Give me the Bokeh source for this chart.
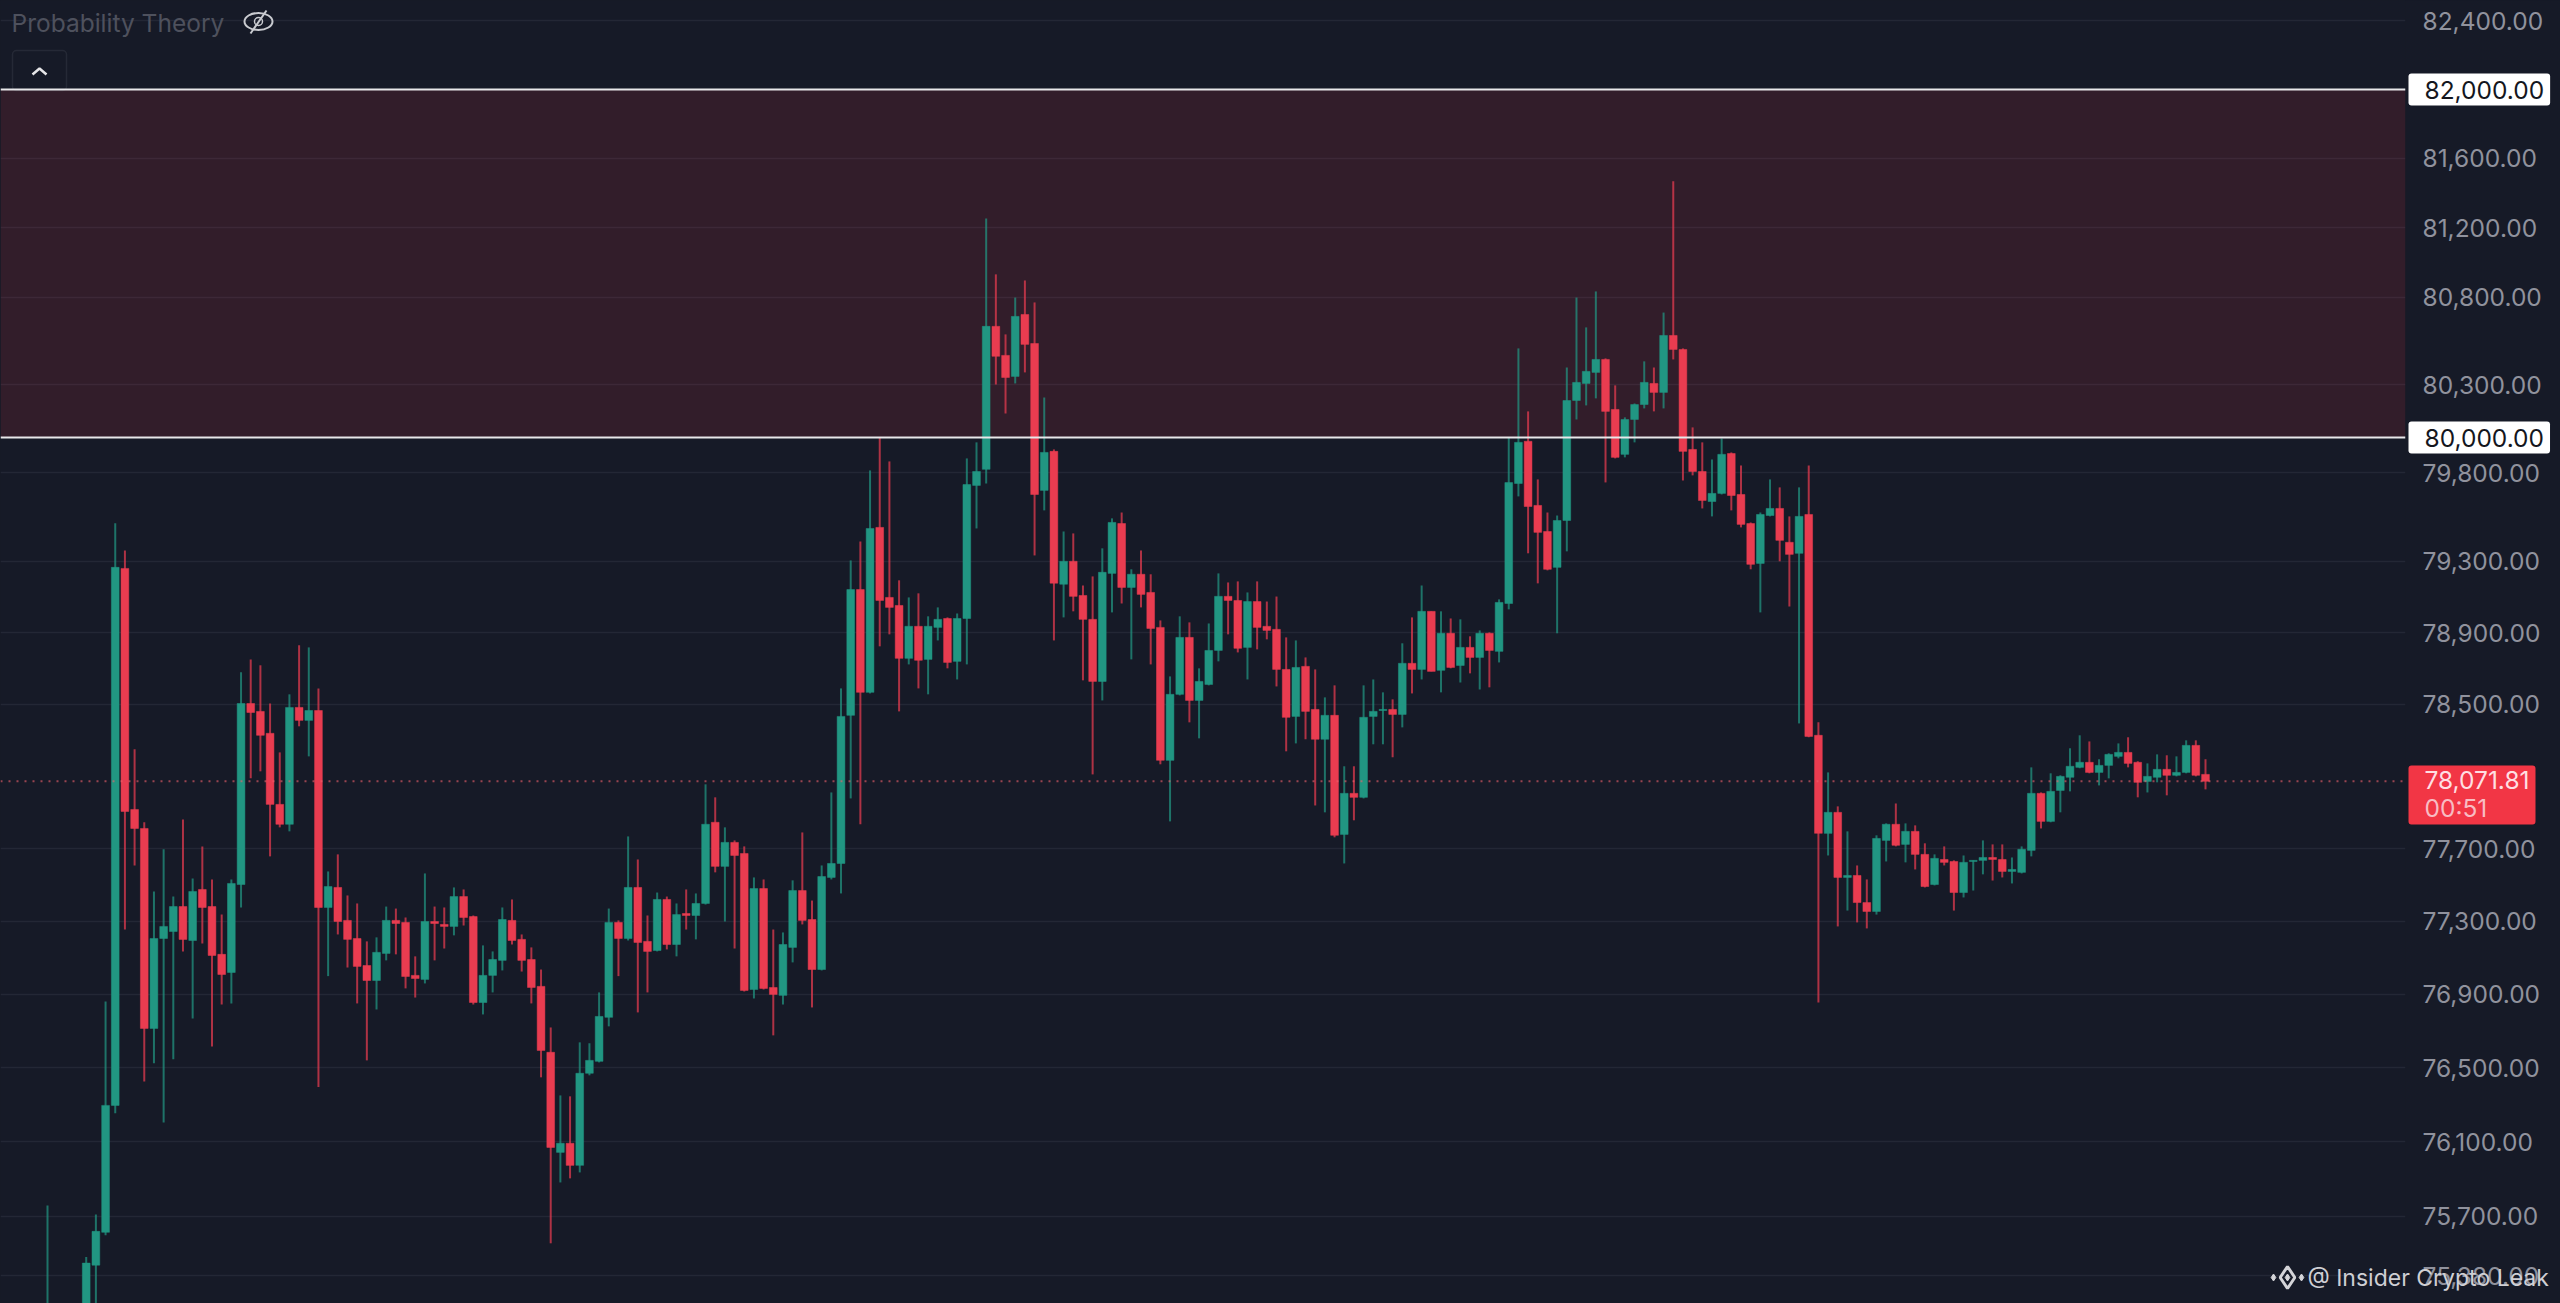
from bokeh.plotting import figure
from bokeh.models import (BoxAnnotation, ColumnDataSource, FixedTicker, Label, LinearScale,
                          NumeralTickFormatter, Range1d, Span)
from bokeh.embed import file_html
from bokeh.resources import INLINE

opens = [
75100,75180,75120,75190,75200,75437,75613,76297,79260,77916,
77811,76715,77206,77244,77381,77195,77475,77381,77119,77020,
77502,78504,78460,78338,77944,77834,78482,78410,78465,77376,
77486,77305,77206,77058,76976,77124,77305,77294,77004,76982,
77299,77283,77272,77436,77326,76856,77004,77086,77305,77201,
77091,76944,76585,76043,76092,75973,76471,76536,76775,77294,
77206,77486,77190,77140,77420,77173,77343,77332,77398,77845,
77602,77734,77673,76927,77480,76938,76895,77157,77469,77310,
77036,77541,77618,78438,79141,78566,79491,79097,79052,78756,
78935,78750,78929,78979,78739,78979,79728,79819,80633,80467,
80347,80701,80535,79700,79921,79171,79300,79108,78974,78627,
79232,79513,79153,79227,79125,78929,78188,78555,78873,78521,
78610,78800,79103,79080,78817,79074,78935,78918,78694,78432,
78711,78471,78305,78438,77778,78005,77983,78432,78465,78471,
78443,78728,78694,79019,78689,78896,78716,78817,78761,78896,
78795,79063,79739,79978,79615,79468,79266,79530,80210,80307,
80370,80444,80159,79904,80102,80187,80307,80256,80581,80501,
79932,79807,79637,79683,79909,79677,79513,79288,79558,79598,
79407,79345,79564,78327,77784,77900,77541,77552,77403,77354,
77745,77834,77723,77795,77668,77502,77640,77629,77458,77629,
77635,77651,77640,77574,77569,77690,78005,77850,78021,78094,
78149,78177,78121,78160,78210,78232,78177,78071,78094,78138,
78105,78121,78271,78110]

highs = [
75757,75220,75210,75225,75480,75709,76862,79514,79361,78249,
77845,77464,77696,77436,77861,77535,77712,77530,77337,77530,
78678,78750,78717,78504,78232,78555,78829,78817,78588,77574,
77668,77442,77398,77190,77212,77381,77370,77321,77108,77563,
77381,77376,77486,77475,77332,77168,77135,77376,77420,77228,
77157,77036,76720,76351,76346,76639,76634,76911,77370,77305,
77767,77640,77332,77458,77436,77398,77475,77453,78055,77983,
77817,77745,77712,77541,77530,77255,77239,77525,77789,77414,
77607,78010,78588,79305,79412,79813,80000,79864,79193,79097,
79120,78991,79041,78985,79007,79881,79972,81253,80931,80587,
80798,80896,80770,80227,79932,79468,79457,79164,79215,79373,
79542,79575,79255,79361,79227,78968,78655,78991,78957,78700,
78951,79232,79181,79187,79125,79187,79074,79102,78873,78856,
78761,78694,78538,78605,78155,78155,78605,78638,78566,78527,
78840,78985,79164,79019,79019,78979,78974,78879,78912,78901,
79086,80000,80507,80148,79762,79575,79558,80398,80798,80627,
80833,80450,80296,80114,80193,80433,80398,80712,81467,80507,
80057,79972,79875,79994,79915,79841,79519,79575,79762,79717,
79553,79717,79841,78399,78121,77933,77795,77607,77530,77773,
77839,77949,77839,77828,77729,77668,77712,77635,77662,77635,
77745,77723,77723,77651,77712,78149,78010,78116,78105,78255,
78327,78293,78194,78227,78282,78316,78183,78171,78221,78216,
78210,78299,78299,78194]

lows = [
75050,75100,75060,75150,75190,75150,75597,76254,77255,77607,
76427,76525,76205,76547,77135,76769,77179,76617,76845,76851,
77376,78088,78127,77657,77817,77795,78377,78210,76396,77000,
77228,77047,76851,76541,76818,77086,77119,76933,76883,76960,
77086,77151,77223,77277,76845,76791,76911,77031,77173,77025,
76851,76449,75554,75881,75903,75935,76460,76530,76726,77000,
77195,76802,76911,77135,77146,77108,77255,77201,77392,77569,
77299,77151,76916,76878,76927,76677,76845,77075,77283,76829,
77031,77530,77453,77977,77834,78560,78823,78890,78460,78722,
78588,78555,78856,78700,78638,78722,79485,79739,80301,80136,
80307,80370,79333,79587,78856,78985,79019,78633,78110,78521,
79013,79063,78750,79041,78722,78166,77850,78549,78399,78310,
78605,78739,78890,78789,78638,78806,78862,78599,78238,78282,
78305,77938,77900,77762,77618,77856,77977,78277,78277,78205,
78371,78560,78638,78683,78566,78700,78621,78672,78582,78594,
78733,79030,79666,79345,79176,79249,78896,79356,80102,80182,
80222,79745,79881,79887,79972,80165,80148,80165,80444,79756,
79785,79598,79553,79677,79587,79491,79255,79013,79553,79300,
79046,78393,78316,76856,77662,77272,77359,77294,77261,77337,
77629,77712,77624,77585,77486,77497,77607,77359,77431,77469,
77558,77524,77541,77508,77563,77657,77811,77845,77900,78016,
78144,78116,78049,78088,78199,78149,77983,78010,78066,77994,
78099,78116,78099,78027]

closes = [
75180,75120,75190,75210,75448,75618,76297,79266,77905,77811,
76715,77206,77272,77381,77201,77464,77376,77113,77009,77508,
78504,78454,78327,77944,77834,78482,78410,78465,77376,77491,
77299,77201,77053,76976,77130,77305,77288,76998,76987,77299,
77288,77272,77436,77321,76856,77004,77091,77310,77195,77086,
76938,76595,76070,76092,75973,76471,76541,76780,77294,77206,
77486,77184,77135,77420,77173,77337,77332,77398,77834,77602,
77734,77662,76922,77480,76933,76900,77173,77469,77305,77036,
77546,77618,78432,79141,78566,79485,79080,79041,78756,78935,
78745,78935,78974,78733,78979,79733,79807,80633,80462,80341,
80690,80530,79677,79915,79177,79300,79103,78974,78627,79238,
79519,79153,79227,79114,78923,78188,78555,78873,78521,78627,
78800,79103,79080,78812,79074,78929,78912,78694,78427,78705,
78460,78305,78438,77773,78005,77983,78427,78460,78471,78443,
78728,78694,79019,78683,78896,78705,78817,78761,78896,78800,
79069,79744,79972,79609,79463,79255,79530,80210,80313,80376,
80444,80148,79887,80102,80187,80313,80256,80581,80501,79921,
79807,79643,79683,79904,79671,79508,79283,79564,79598,79418,
79339,79553,78321,77784,77900,77541,77552,77403,77354,77756,
77834,77718,77795,77668,77491,77646,77624,77458,77624,77635,
77651,77640,77574,77585,77696,78005,77850,78016,78099,78155,
78177,78121,78160,78221,78232,78171,78066,78099,78138,78105,
78121,78271,78105,78071.81]

axis_ticks = [82400, 81600, 81200, 80800, 80300, 79800, 79300, 78900, 78500,
              77700, 77300, 76900, 76500, 76100, 75700, 75380]
zone_top = 82000
zone_bottom = 80000
last_price = 78071.81
title_text = "Probability Theory"
countdown = "00:51"
watermark = "@ Insider Crypto Leak"

BG = "#161a27"
GREEN = "#219682"
RED = "#e93c50"
FONT = "Inter"

N = len(opens)
ppi = (2205 - 47) / (N - 1)  # pixels per candle
x_start = (0 - 47) / ppi
x_end = (2405 - 47) / ppi

p = figure(width=2560, height=1303, frame_width=2405, frame_height=1303,
           output_backend="svg", toolbar_location=None,
           y_axis_type="log", y_axis_location="right",
           x_range=Range1d(x_start, x_end), y_range=Range1d(75232, 82519),
           background_fill_color=BG, border_fill_color=BG,
           min_border_left=0, min_border_top=0, min_border_bottom=0, min_border_right=0)
p.outline_line_color = None
p.xaxis.visible = False
p.xgrid.visible = False

# Reference pixel space for interface decoration
p.extra_x_ranges["px"] = Range1d(0, 2405)
p.extra_y_ranges["px"] = Range1d(1303, 0)
p.extra_y_scales["px"] = LinearScale()

ax = p.yaxis[0]
ax.ticker = FixedTicker(ticks=axis_ticks)
ax.formatter = NumeralTickFormatter(format="0,0.00")
ax.major_tick_line_color = None
ax.minor_tick_line_color = None
ax.axis_line_color = None
ax.major_label_standoff = 11
ax.major_label_text_color = "#90929d"
ax.major_label_text_font = FONT
ax.major_label_text_font_size = "24.5px"
ax.major_label_text_font_style = "normal"

g = p.ygrid[0]
g.ticker = FixedTicker(ticks=axis_ticks)
g.grid_line_color = "#232735"
g.grid_line_width = 1.5
g.minor_grid_line_color = None

# Resistance zone
p.add_layout(BoxAnnotation(top=zone_top, bottom=zone_bottom, fill_color="#f23645", fill_alpha=0.13,
                           line_color=None, level="underlay"))

idx = list(range(N))
up = [c >= o for o, c in zip(opens, closes)]
src = ColumnDataSource(dict(
    x=idx,
    top=[max(o, c) for o, c in zip(opens, closes)],
    bottom=[min(o, c) for o, c in zip(opens, closes)],
    high=highs, low=lows,
    color=[GREEN if u else RED for u in up],
))
p.segment(x0="x", x1="x", y0="high", y1="low", source=src, line_color="color", line_width=2, line_alpha=0.72)
p.vbar(x="x", width=0.8, top="top", bottom="bottom", source=src, fill_color="color", line_color="color", line_width=0.5)

# Horizontal levels
for lv in (zone_top, zone_bottom):
    p.add_layout(Span(location=lv, dimension="width", line_color="#e8e8ea", line_width=2))
p.add_layout(Span(location=last_price, dimension="width", line_color="#f0606c", line_width=2,
                  line_alpha=0.6, line_dash="2 6"))

# Price tags on the scale (side-panel labels are not clipped to the frame)
for lv, ypx in ((zone_top, 89), (zone_bottom, 437)):
    p.add_layout(Label(x=2408, y=ypx, x_units="canvas", y_units="canvas", text=f"{lv:,.2f}", text_font=FONT,
                       text_font_size="24.5px", text_color="#14161d", text_align="left",
                       text_baseline="middle", background_fill_color="#ffffff",
                       border_radius=3, padding=(16, 6, 7, 7)), "right")
p.add_layout(Label(x=2408, y=765, x_units="canvas", y_units="canvas", text=f"{last_price:,.2f}",
                   text_font=FONT, text_font_size="24.5px", text_color="#ffdfe2", text_align="left",
                   text_baseline="top", background_fill_color="#f23645",
                   border_radius=3, padding=(16, 6, 5, 36)), "right")
p.add_layout(Label(x=2424, y=807, x_units="canvas", y_units="canvas", text=countdown,
                   text_font=FONT, text_font_size="24.5px", text_color="#f8bcc3", text_align="left",
                   text_baseline="middle"), "right")

# Header
p.add_layout(Label(x=11, y=22, x_range_name="px", y_range_name="px", text=title_text, text_font=FONT,
                   text_font_size="24.5px", text_color="#4e515d", text_align="left", text_baseline="middle"))
p.ellipse(x=[258], y=[21], width=28, height=17, x_range_name="px", y_range_name="px",
          fill_color=None, line_color="#c9cbd0", line_width=2)
p.circle(x=[258], y=[21], radius=4, x_range_name="px", y_range_name="px",
         fill_color=None, line_color="#c9cbd0", line_width=1.5)
p.line(x=[250, 266], y=[33, 10], x_range_name="px", y_range_name="px", line_color="#c9cbd0", line_width=2)
p.add_layout(BoxAnnotation(left=12, right=66, top=50, bottom=90, x_range_name="px", y_range_name="px",
                           fill_color=BG, fill_alpha=0, line_color="#4a4d59", line_width=1.5, border_radius=4,
                           level="underlay"))
p.line(x=[32, 39, 46], y=[74, 68, 74], x_range_name="px", y_range_name="px", line_color="#e6e6e8", line_width=2.5)

# Watermark
p.scatter(x=[2287], y=[1277], marker="diamond", size=22, x_range_name="px", y_range_name="px",
          fill_color=None, line_color="#d4d4d8", line_width=3)
p.scatter(x=[2287, 2273, 2301], y=[1277, 1277, 1277], marker="diamond", size=7, x_range_name="px",
          y_range_name="px", fill_color="#d4d4d8", line_color="#d4d4d8")
p.add_layout(Label(x=2307, y=1277, x_units="canvas", y_units="canvas", text=watermark, text_font=FONT,
                   text_font_size="23px", text_color="#cfcfd4", text_align="left", text_baseline="middle"), "right")

html = file_html(p, INLINE)
html = html.replace("<head>", "<head><style>html,body{background:#161a27}</style>", 1)
open("out.html", "w").write(html)
